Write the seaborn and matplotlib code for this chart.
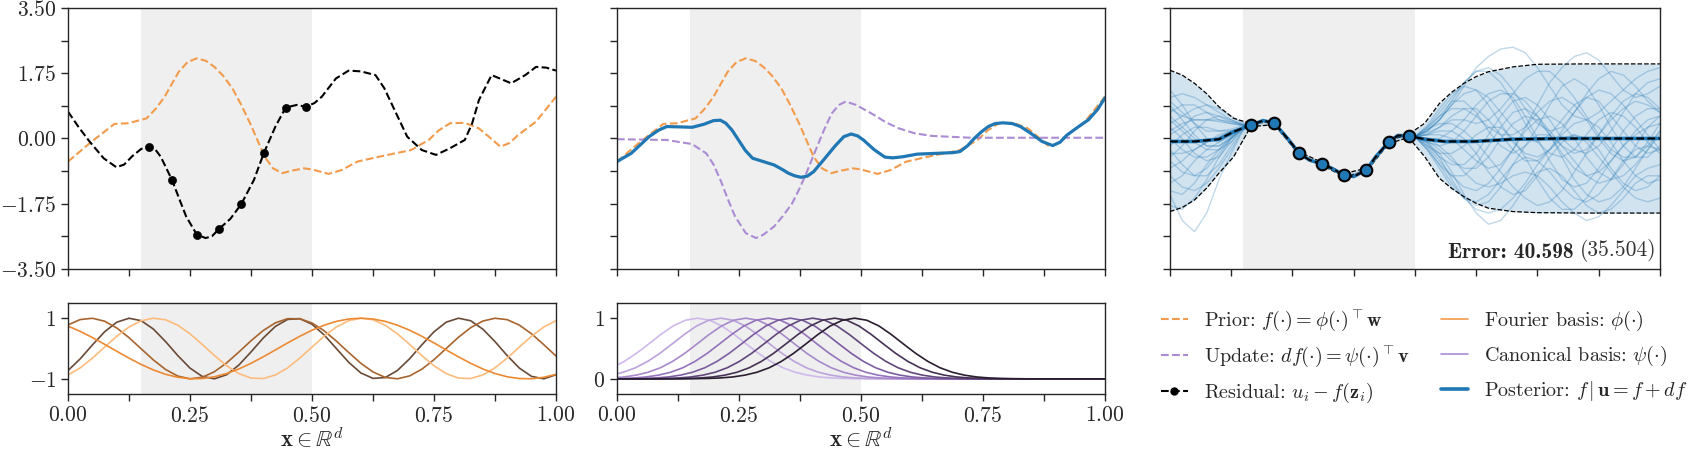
import numpy as np
import pandas as pd
import seaborn as sns
import matplotlib.pyplot as plt
from matplotlib.lines import Line2D
from matplotlib.ticker import MultipleLocator, FuncFormatter

sns.set_style('ticks')
plt.rcParams['font.family'] = ['cmr10']
plt.rcParams['mathtext.fontset'] = 'cm'
plt.rcParams['axes.linewidth'] = 1.0

# --- data ---
shade = (0.15, 0.5)

# prior sample f (orange dashed)
prior_x = [0.0, 0.044, 0.095, 0.124, 0.161, 0.18, 0.198, 0.213, 0.227, 0.245, 0.264, 0.283, 0.30, 0.318,
           0.337, 0.355, 0.373, 0.39, 0.403, 0.42, 0.439, 0.46, 0.483, 0.50, 0.534, 0.56, 0.593, 0.637,
           0.703, 0.739, 0.76, 0.783, 0.813, 0.842, 0.865, 0.886, 0.905, 0.922, 0.959, 1.0]
prior_y = [-0.62, -0.13, 0.39, 0.41, 0.54, 0.80, 1.12, 1.47, 1.79, 2.05, 2.15, 2.08, 1.92, 1.68,
           1.34, 0.90, 0.41, -0.10, -0.49, -0.80, -0.93, -0.86, -0.80, -0.83, -0.95, -0.85, -0.62, -0.49,
           -0.31, -0.04, 0.22, 0.41, 0.42, 0.27, 0.02, -0.22, -0.12, 0.09, 0.45, 1.12]

# residual (black dashed) and the residuals at the observations
resid_x = [0.0, 0.022, 0.044, 0.073, 0.099, 0.115, 0.132, 0.15, 0.165, 0.178, 0.19, 0.213, 0.228, 0.242,
           0.264, 0.282, 0.295, 0.31, 0.333, 0.355, 0.381, 0.401, 0.425, 0.446, 0.469, 0.487, 0.505,
           0.52, 0.549, 0.575, 0.60, 0.63, 0.648, 0.666, 0.695, 0.725, 0.754, 0.783, 0.813, 0.828,
           0.842, 0.868, 0.89, 0.908, 0.937, 0.959, 0.98, 1.0]
resid_y = [0.72, 0.30, -0.08, -0.53, -0.77, -0.70, -0.47, -0.28, -0.22, -0.28, -0.49, -1.11, -1.62, -2.09,
           -2.58, -2.67, -2.62, -2.42, -2.15, -1.76, -1.11, -0.40, 0.32, 0.83, 0.90, 0.85, 0.95,
           1.12, 1.61, 1.82, 1.80, 1.70, 1.35, 0.85, 0.05, -0.31, -0.44, -0.26, -0.04, 0.40,
           1.03, 1.70, 1.58, 1.48, 1.70, 1.92, 1.90, 1.82]
z_obs = [0.165, 0.213, 0.264, 0.31, 0.355, 0.401, 0.446, 0.487]
resid_obs = [-0.22, -1.11, -2.58, -2.42, -1.76, -0.40, 0.83, 0.85]
u_obs = [0.36, 0.41, -0.40, -0.68, -0.98, -0.84, -0.10, 0.07]

# update df (purple dashed) and pathwise posterior (blue)
update_x = [0.0, 0.102, 0.154, 0.183, 0.198, 0.212, 0.227, 0.242, 0.264, 0.285, 0.30, 0.322, 0.34, 0.359,
            0.375, 0.388, 0.41, 0.425, 0.44, 0.455, 0.469, 0.49, 0.527, 0.55, 0.578, 0.61, 0.644, 0.725, 1.0]
update_y = [-0.02, -0.04, -0.15, -0.40, -0.70, -1.11, -1.62, -2.09, -2.54, -2.67, -2.58, -2.36, -2.08, -1.74,
            -1.32, -0.93, -0.22, 0.25, 0.67, 0.90, 0.99, 0.90, 0.63, 0.44, 0.27, 0.14, 0.07, 0.02, 0.02]
post_x = [0.0, 0.029, 0.066, 0.085, 0.102, 0.13, 0.154, 0.178, 0.198, 0.212, 0.223, 0.236, 0.249, 0.263,
          0.278, 0.30, 0.322, 0.34, 0.351, 0.364, 0.377, 0.39, 0.403, 0.425, 0.447, 0.465, 0.48, 0.493,
          0.505, 0.527, 0.549, 0.565, 0.586, 0.615, 0.688, 0.703, 0.718, 0.732, 0.747, 0.761, 0.775, 0.791,
          0.81, 0.827, 0.85, 0.871, 0.893, 0.908, 0.922, 0.944, 0.966, 0.985, 1.0]
post_y = [-0.62, -0.40, 0.05, 0.22, 0.32, 0.31, 0.30, 0.38, 0.48, 0.49, 0.41, 0.22, -0.04, -0.32,
          -0.53, -0.62, -0.71, -0.84, -0.93, -1.00, -1.04, -1.01, -0.89, -0.55, -0.20, 0.05, 0.12, 0.07,
          -0.04, -0.30, -0.50, -0.52, -0.49, -0.42, -0.38, -0.35, -0.20, 0.00, 0.18, 0.32, 0.40, 0.42,
          0.40, 0.32, 0.12, -0.08, -0.19, -0.10, 0.09, 0.30, 0.50, 0.78, 1.09]

# exact posterior: mean and 2-sigma band
mean_x = [0.0, 0.05, 0.1, 0.13, 0.165, 0.19, 0.213, 0.24, 0.264, 0.285, 0.31, 0.33, 0.355, 0.375,
          0.401, 0.42, 0.446, 0.465, 0.487, 0.52, 0.56, 0.62, 0.7, 0.8, 1.0]
mean_y = [-0.08, -0.08, -0.02, 0.18, 0.36, 0.48, 0.41, 0.0, -0.40, -0.58, -0.68, -0.80, -0.98, -1.02,
          -0.84, -0.49, -0.10, 0.08, 0.07, -0.02, -0.08, -0.08, -0.02, 0.0, 0.0]
band_x = [0.0, 0.025, 0.05, 0.075, 0.1, 0.13, 0.165, 0.213, 0.264, 0.31, 0.355, 0.401, 0.446, 0.487,
          0.52, 0.55, 0.575, 0.6, 0.625, 0.65, 0.7, 0.75, 0.85, 1.0]
band_hi = [1.83, 1.70, 1.48, 1.20, 0.85, 0.54, 0.40, 0.45, -0.36, -0.64, -0.94, -0.80, -0.06, 0.11,
           0.41, 0.94, 1.24, 1.48, 1.66, 1.79, 1.92, 1.99, 2.0, 2.0]
band_lo = [-1.96, -1.85, -1.65, -1.33, -0.93, -0.49, 0.32, 0.37, -0.44, -0.72, -1.02, -0.88, -0.14, 0.03,
           -0.49, -1.07, -1.34, -1.56, -1.74, -1.87, -1.96, -1.99, -2.0, -2.0]

# posterior sample paths, outside the data region (inside they follow the mean)
left_x = np.linspace(0.0, 0.15, 7)
left_samples = [
    [1.1, 1.2, 1.1, 0.9, 0.7, 0.5, 0.35],
    [-1.5, -2.2, -2.5, -2.0, -1.1, -0.4, 0.25],
    [0.4, 0.6, 0.8, 0.9, 0.8, 0.6, 0.4],
    [-0.8, -0.6, -0.3, -0.1, 0.1, 0.2, 0.3],
    [0.9, 0.5, 0.1, -0.2, -0.2, 0.0, 0.3],
    [-0.3, -0.7, -1.0, -1.0, -0.7, -0.2, 0.25],
    [0.2, 0.4, 0.5, 0.5, 0.45, 0.4, 0.35],
    [-1.2, -1.0, -0.6, -0.3, -0.1, 0.1, 0.3],
    [0.6, 0.3, 0.0, -0.2, -0.2, 0.05, 0.3],
    [-0.5, -0.2, 0.2, 0.5, 0.6, 0.5, 0.38],
    [1.3, 0.9, 0.4, 0.0, -0.1, 0.1, 0.32],
    [-1.8, -1.9, -1.6, -1.1, -0.5, 0.0, 0.3],
    [0.0, -0.3, -0.5, -0.5, -0.3, 0.0, 0.3],
    [0.7, 0.9, 0.9, 0.7, 0.5, 0.4, 0.35],
    [-0.2, 0.1, 0.3, 0.3, 0.2, 0.2, 0.3],
    [-1.0, -1.3, -1.4, -1.2, -0.8, -0.3, 0.25],
    [0.3, 0.0, -0.4, -0.6, -0.5, -0.1, 0.3],
    [0.8, 0.6, 0.5, 0.5, 0.5, 0.45, 0.35],
    [0.5, 0.2, -0.1, -0.3, -0.3, -0.1, 0.3],
    [-0.6, -0.9, -1.0, -0.8, -0.4, 0.0, 0.3],
    [1.0, 0.7, 0.4, 0.2, 0.2, 0.25, 0.35],
    [-1.4, -1.5, -1.2, -0.7, -0.3, 0.05, 0.3],
    [0.1, 0.3, 0.6, 0.7, 0.6, 0.45, 0.37],
    [-0.4, -0.4, -0.3, -0.1, 0.05, 0.2, 0.3],
]
right_x = np.linspace(0.5, 1.0, 21)
right_samples = [
    [0.05, 0.2, 0.5, 0.9, 1.2, 1.3, 1.1, 0.7, 0.3, 0.0, -0.1, 0.1, 0.5, 0.9, 1.1, 1.0, 0.6, 0.2, -0.2, -0.4, -0.3],
    [0.05, -0.2, -0.6, -1.0, -1.3, -1.4, -1.2, -0.8, -0.3, 0.2, 0.5, 0.6, 0.4, 0.0, -0.5, -0.9, -1.1, -1.0, -0.7, -0.3, 0.1],
    [0.05, 0.3, 0.7, 1.1, 1.5, 1.8, 1.9, 1.7, 1.3, 0.8, 0.4, 0.2, 0.3, 0.7, 1.2, 1.6, 1.8, 1.7, 1.4, 1.0, 0.7],
    [0.05, -0.1, -0.2, -0.1, 0.2, 0.6, 1.0, 1.2, 1.2, 1.0, 0.6, 0.1, -0.4, -0.8, -1.0, -0.9, -0.6, -0.2, 0.2, 0.5, 0.6],
    [0.05, -0.3, -0.8, -1.3, -1.6, -1.7, -1.5, -1.1, -0.7, -0.5, -0.6, -0.9, -1.3, -1.6, -1.7, -1.5, -1.1, -0.6, -0.3, -0.2, -0.3],
    [0.05, 0.1, 0.1, 0.0, -0.3, -0.6, -0.8, -0.7, -0.3, 0.3, 0.9, 1.5, 1.9, 2.2, 2.3, 2.1, 1.7, 1.3, 1.1, 1.2, 1.4],
    [0.05, 0.25, 0.4, 0.4, 0.2, -0.1, -0.5, -0.9, -1.3, -1.6, -1.8, -1.7, -1.4, -0.9, -0.4, 0.1, 0.5, 0.8, 1.0, 0.9, 0.7],
    [0.05, -0.15, -0.5, -0.7, -0.7, -0.4, 0.1, 0.6, 1.0, 1.1, 0.9, 0.5, 0.0, -0.3, -0.4, -0.2, 0.2, 0.7, 1.2, 1.5, 1.6],
    [0.05, 0.35, 0.8, 1.2, 1.4, 1.3, 0.9, 0.4, -0.1, -0.4, -0.5, -0.3, 0.1, 0.4, 0.5, 0.3, -0.1, -0.6, -1.0, -1.2, -1.1],
    [0.05, -0.25, -0.7, -1.2, -1.6, -1.9, -2.0, -1.9, -1.6, -1.2, -0.7, -0.3, 0.0, 0.1, -0.1, -0.5, -0.9, -1.3, -1.6, -1.7, -1.6],
    [0.05, 0.2, 0.5, 0.9, 1.4, 1.9, 2.2, 2.4, 2.45, 2.3, 1.9, 1.4, 0.9, 0.6, 0.5, 0.7, 1.0, 1.3, 1.6, 1.8, 1.9],
    [0.05, 0.0, -0.2, -0.5, -0.9, -1.2, -1.3, -1.2, -1.0, -0.9, -1.0, -1.3, -1.7, -2.0, -2.2, -2.1, -1.8, -1.4, -1.0, -0.8, -0.7],
    [0.05, 0.15, 0.3, 0.6, 0.8, 0.8, 0.5, 0.1, -0.3, -0.6, -0.6, -0.3, 0.2, 0.7, 1.1, 1.3, 1.2, 0.9, 0.5, 0.1, -0.3],
    [0.05, -0.2, -0.4, -0.4, -0.2, 0.1, 0.3, 0.3, 0.0, -0.5, -1.1, -1.6, -1.9, -1.9, -1.6, -1.1, -0.6, -0.2, 0.1, 0.3, 0.4],
    [0.05, 0.25, 0.6, 1.0, 1.0, 0.7, 0.2, -0.2, -0.4, -0.2, 0.3, 0.9, 1.4, 1.6, 1.4, 0.9, 0.3, -0.2, -0.5, -0.5, -0.2],
    [0.05, -0.1, -0.4, -0.9, -1.5, -2.0, -2.3, -2.2, -1.8, -1.3, -0.9, -0.8, -1.0, -1.4, -1.8, -2.0, -1.9, -1.6, -1.2, -1.0, -1.0],
    [0.05, 0.1, 0.3, 0.5, 0.5, 0.4, 0.5, 0.8, 1.2, 1.6, 1.8, 1.8, 1.5, 1.1, 0.6, 0.1, -0.3, -0.5, -0.5, -0.2, 0.2],
    [0.05, -0.05, -0.3, -0.6, -0.8, -0.8, -0.5, 0.0, 0.4, 0.6, 0.5, 0.1, -0.5, -1.1, -1.5, -1.7, -1.6, -1.3, -0.8, -0.3, 0.2],
    [0.05, 0.3, 0.6, 0.8, 0.8, 0.6, 0.3, 0.1, 0.1, 0.3, 0.7, 1.0, 1.1, 0.9, 0.5, 0.0, -0.4, -0.6, -0.5, -0.1, 0.4],
    [0.05, -0.3, -0.7, -1.0, -1.0, -0.7, -0.2, 0.3, 0.7, 0.8, 0.6, 0.2, -0.2, -0.4, -0.3, 0.1, 0.6, 1.0, 1.2, 1.1, 0.8],
    [0.05, 0.1, 0.2, 0.2, 0.0, -0.4, -0.9, -1.3, -1.5, -1.4, -1.0, -0.5, -0.1, 0.1, 0.0, -0.3, -0.8, -1.2, -1.4, -1.3, -1.0],
    [0.05, 0.2, 0.5, 1.0, 1.5, 1.8, 1.8, 1.5, 1.0, 0.4, -0.1, -0.4, -0.5, -0.3, 0.1, 0.5, 0.7, 0.6, 0.3, -0.1, -0.4],
    [0.05, -0.1, -0.5, -1.1, -1.6, -1.8, -1.7, -1.3, -0.7, -0.2, 0.1, 0.1, -0.2, -0.6, -1.0, -1.2, -1.1, -0.7, -0.2, 0.3, 0.6],
    [0.05, 0.0, 0.0, 0.2, 0.5, 0.9, 1.2, 1.3, 1.1, 0.6, 0.0, -0.6, -1.1, -1.3, -1.2, -0.8, -0.3, 0.2, 0.6, 0.8, 0.8],
]

# Fourier basis functions on a grid (dark, medium, light, orange)
basis_x = np.linspace(0.0, 1.0, 41)
fourier_dark = [-0.725, -0.339, 0.119, 0.552, 0.868, 0.998, 0.917, 0.640, 0.227, -0.234, -0.646, -0.920,
                -0.998, -0.864, -0.546, -0.113, 0.345, 0.730, 0.959, 0.984, 0.800, 0.445, -0.003, -0.452,
                -0.805, -0.985, -0.957, -0.724, -0.337, 0.120, 0.553, 0.869, 0.999, 0.916, 0.639, 0.227,
                -0.235, -0.647, -0.920, -0.998, -0.863]
fourier_mid = [0.779, 0.955, 0.997, 0.900, 0.676, 0.358, -0.011, -0.378, -0.692, -0.909, -0.999, -0.948,
               -0.765, -0.474, -0.117, 0.256, 0.593, 0.848, 0.984, 0.981, 0.841, 0.583, 0.243, -0.130,
               -0.486, -0.773, -0.952, -0.998, -0.903, -0.682, -0.366, 0.002, 0.370, 0.686, 0.905, 0.998,
               0.951, 0.770, 0.482, 0.126, -0.248]
fourier_light = [-0.873, -0.637, -0.316, 0.048, 0.406, 0.709, 0.916, 0.999, 0.947, 0.768, 0.485, 0.136,
                 -0.231, -0.568, -0.827, -0.974, -0.990, -0.872, -0.637, -0.315, 0.049, 0.407, 0.710, 0.916,
                 0.999, 0.947, 0.767, 0.484, 0.135, -0.232, -0.568, -0.827, -0.975, -0.990, -0.871, -0.636,
                 -0.314, 0.050, 0.408, 0.711, 0.917]
fourier_orange = [0.739, 0.565, 0.361, 0.138, -0.092, -0.318, -0.526, -0.707, -0.850, -0.948, -0.996, -0.990,
                  -0.932, -0.825, -0.674, -0.487, -0.274, -0.046, 0.184, 0.404, 0.603, 0.769, 0.895, 0.973,
                  1.0, 0.973, 0.895, 0.769, 0.603, 0.404, 0.184, -0.046, -0.274, -0.487, -0.674, -0.825,
                  -0.932, -0.990, -0.996, -0.948, -0.850]
fourier_names = ['dark', 'mid', 'light', 'orange']
fourier_colors = ['#6a4a36', '#a8642e', '#fdbb7c', '#ec8a33']

# canonical basis: one bump shape, centred on each observation
bump_offsets = np.linspace(-0.5, 0.85, 55)
bump_profile = ([0.0] * 6
                + [0.001, 0.003, 0.007, 0.015, 0.031, 0.061, 0.109, 0.183, 0.288, 0.421, 0.575, 0.732,
                   0.871, 0.966, 1.0, 0.966, 0.871, 0.732, 0.575, 0.421, 0.288, 0.183, 0.109, 0.061,
                   0.031, 0.015, 0.007, 0.003, 0.001]
                + [0.0] * 20)

orange = '#f29b4c'
purple = '#ab8bd3'
blue = '#1f77b4'

# --- layout ---
fig = plt.figure(figsize=(16.88, 4.53), dpi=100)
top_b, top_h = 0.4062, 0.5762
bot_b, bot_h = 0.1302, 0.2009
ax_tl = fig.add_axes([0.0403, top_b, 0.2891, top_h])
ax_tm = fig.add_axes([0.3655, top_b, 0.2891, top_h])
ax_tr = fig.add_axes([0.6931, top_b, 0.2903, top_h])
ax_bl = fig.add_axes([0.0403, bot_b, 0.2891, bot_h])
ax_bm = fig.add_axes([0.3655, bot_b, 0.2891, bot_h])

for ax in [ax_tl, ax_tm, ax_tr, ax_bl, ax_bm]:
    ax.axvspan(*shade, color='#efefef', lw=0, zorder=0)
    ax.set_xlim(0, 1)
    ax.xaxis.set_major_locator(MultipleLocator(0.25))
    ax.xaxis.set_minor_locator(MultipleLocator(0.125))
    ax.tick_params(which='both', direction='out', length=5, width=1, labelsize=15.5)
    for s in ax.spines.values():
        s.set_linewidth(1.0)

fmt2 = FuncFormatter(lambda v, p: f'${v:.2f}$')
fmt0 = FuncFormatter(lambda v, p: f'${v:.0f}$')

for ax in [ax_tl, ax_tm, ax_tr]:
    ax.set_ylim(-3.5, 3.5)
    ax.yaxis.set_major_locator(MultipleLocator(1.75))
    ax.yaxis.set_minor_locator(MultipleLocator(0.875))
    ax.tick_params(labelbottom=False)
ax_tl.yaxis.set_major_formatter(fmt2)
ax_tm.tick_params(labelleft=False)
ax_tr.tick_params(labelleft=False)

# top-left: prior and residual
sns.lineplot(x=prior_x, y=prior_y, ax=ax_tl, color=orange, lw=1.5, linestyle='--')
sns.lineplot(x=resid_x, y=resid_y, ax=ax_tl, color='black', lw=1.5, linestyle='--')
sns.scatterplot(x=z_obs, y=resid_obs, ax=ax_tl, color='black', s=34, edgecolor='black', zorder=4)

# top-middle: prior, update, posterior
sns.lineplot(x=prior_x, y=prior_y, ax=ax_tm, color=orange, lw=1.5, linestyle='--')
sns.lineplot(x=update_x, y=update_y, ax=ax_tm, color=purple, lw=1.5, linestyle='--')
sns.lineplot(x=post_x, y=post_y, ax=ax_tm, color=blue, lw=2.3)

# top-right: exact posterior with samples
mean_df = pd.DataFrame({'x': mean_x, 'y': mean_y})
mid = mean_df[(mean_df.x >= z_obs[0]) & (mean_df.x <= z_obs[-1])]
rows = []
for k in range(len(left_samples)):
    xs = list(left_x) + list(mid.x) + list(right_x)
    ys = list(left_samples[k]) + list(mid.y) + list(right_samples[k])
    rows.append(pd.DataFrame({'x': xs, 'y': ys, 'path': k}))
samples = pd.concat(rows, ignore_index=True)

ax_tr.fill_between(band_x, band_lo, band_hi, color=blue, alpha=0.2, lw=0, zorder=1)
sns.lineplot(data=samples, x='x', y='y', units='path', estimator=None, ax=ax_tr,
             color=blue, alpha=0.28, lw=1.0, zorder=2)
sns.lineplot(x=band_x, y=band_hi, ax=ax_tr, color='black', lw=0.9, linestyle='--', zorder=3)
sns.lineplot(x=band_x, y=band_lo, ax=ax_tr, color='black', lw=0.9, linestyle='--', zorder=3)
sns.lineplot(x=mean_x, y=mean_y, ax=ax_tr, color=blue, lw=2.6, zorder=3)
sns.lineplot(x=mean_x, y=mean_y, ax=ax_tr, color='black', lw=1.5, linestyle='--', zorder=4)
sns.scatterplot(x=z_obs, y=u_obs, ax=ax_tr, color=blue, s=70, edgecolor='black', linewidth=1.5, zorder=5)
ax_tr.set_xlabel('')
err_rest = ax_tr.text(0.992, 0.025, '(35.504)', transform=ax_tr.transAxes,
                      ha='right', va='bottom', fontsize=15.5, color='#333333', zorder=6)
ax_tr.annotate('Error: 40.598', xy=(0, 0), xycoords=err_rest, xytext=(-4, 0),
               textcoords='offset points', ha='right', va='bottom', fontsize=15.5,
               family='cmb10', zorder=6)

# bottom-left: Fourier basis
fourier = pd.DataFrame({
    'x': np.tile(basis_x, 4),
    'y': fourier_dark + fourier_mid + fourier_light + fourier_orange,
    'basis': np.repeat(fourier_names, len(basis_x)),
})
sns.lineplot(data=fourier, x='x', y='y', hue='basis', palette=fourier_colors, ax=ax_bl,
             lw=1.2, legend=False)
ax_bl.set_ylim(-1.5, 1.5)
ax_bl.set_yticks([-1, 1])
ax_bl.yaxis.set_major_formatter(fmt0)
ax_bl.xaxis.set_major_formatter(fmt2)

# bottom-middle: canonical basis
bumps = pd.concat([pd.DataFrame({'x': c + bump_offsets, 'y': bump_profile, 'center': c}) for c in z_obs],
                  ignore_index=True)
bump_colors = sns.blend_palette(['#cfb9ea', '#8a66b4', '#2a1e30'], len(z_obs))
sns.lineplot(data=bumps, x='x', y='y', hue='center', palette=bump_colors, ax=ax_bm,
             lw=1.2, legend=False)
ax_bm.set_ylim(-0.25, 1.25)
ax_bm.set_yticks([0, 1])
ax_bm.yaxis.set_major_formatter(fmt0)
ax_bm.xaxis.set_major_formatter(fmt2)
ax_bm.set_xlim(0, 1)

for ax in [ax_tl, ax_tm, ax_tr, ax_bl, ax_bm]:
    ax.set_ylabel('')
for ax in [ax_tl, ax_tm]:
    ax.set_xlabel('')
for ax in [ax_bl, ax_bm]:
    ax.set_xlabel(r'$\mathbf{x} \in \mathbb{R}^d$', fontsize=16.5, labelpad=0)

# legend
handles = [
    Line2D([], [], color=orange, lw=1.5, ls='--'),
    Line2D([], [], color=purple, lw=1.5, ls='--'),
    Line2D([], [], color='black', lw=1.5, ls='--', marker='o', ms=5),
    Line2D([], [], color=orange, lw=1.2),
    Line2D([], [], color=purple, lw=1.2),
    Line2D([], [], color=blue, lw=2.6),
]
labels = [
    r'Prior: $f(\cdot) = \phi(\cdot)^{\top}\mathbf{w}$',
    r'Update: $df(\cdot) = \psi(\cdot)^{\top}\mathbf{v}$',
    r'Residual: $u_i - f(\mathbf{z}_i)$',
    r'Fourier basis: $\phi(\cdot)$',
    r'Canonical basis: $\psi(\cdot)$',
    r'Posterior: $f\,|\,\mathbf{u} = f + df$',
]
fig.legend(handles, labels, loc='upper left', bbox_to_anchor=(0.688, 0.322), ncol=2,
           frameon=False, fontsize=14.5, handlelength=1.3, handletextpad=0.8, columnspacing=1.6,
           labelspacing=0.55, borderpad=0, borderaxespad=0, numpoints=1)

fig.savefig('out.png', dpi=100)
